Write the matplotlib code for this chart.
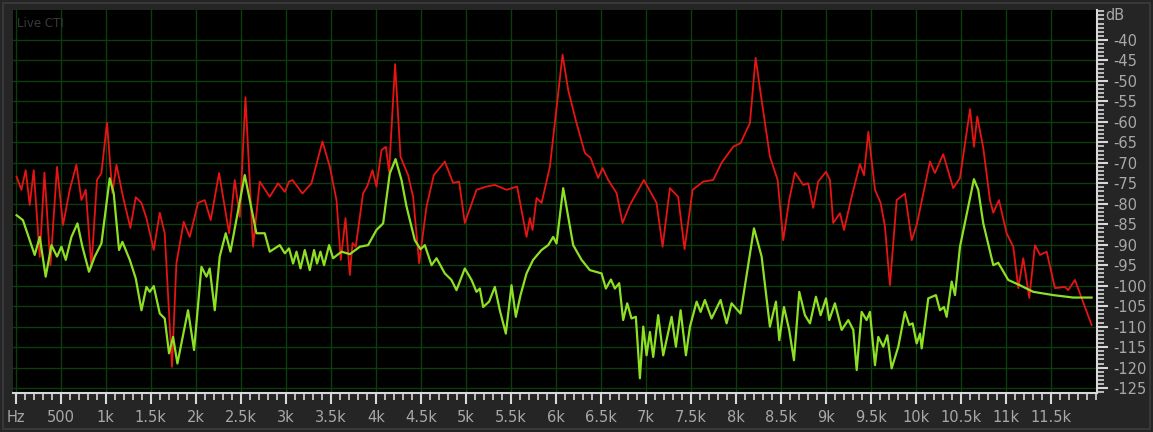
import matplotlib.pyplot as plt
from matplotlib.patches import Rectangle
from matplotlib.ticker import MultipleLocator, FixedLocator

# spectrum traces (Hz, dB)
red_hz = [10, 63, 111, 156, 200, 267, 319, 386, 459, 526, 600, 674, 730, 778, 841, 903, 952, 1014,
          1074, 1119, 1192, 1274, 1333, 1397, 1452, 1533, 1600, 1655, 1736, 1785, 1866, 1933, 2025,
          2100, 2166, 2259, 2370, 2433, 2489, 2552, 2636, 2711, 2822, 2914, 2989, 3036, 3074, 3185,
          3285, 3407, 3489, 3563, 3611, 3663, 3711, 3741, 3777, 3858, 3903, 3963, 4007, 4063, 4111,
          4147, 4214, 4274, 4358, 4414, 4481, 4563, 4644, 4766, 4858, 4925, 4988, 5118, 5229, 5322,
          5452, 5569, 5674, 5711, 5741, 5785, 5841, 5933, 6074, 6136, 6229, 6322, 6385, 6469, 6518,
          6581, 6674, 6740, 6822, 6977, 7118, 7185, 7266, 7358, 7429, 7518, 7636, 7747, 7840, 7969,
          8051, 8155, 8218, 8285, 8377, 8463, 8525, 8591, 8655, 8747, 8802, 8858, 8913, 9000, 9044,
          9080, 9155, 9200, 9285, 9377, 9422, 9470, 9544, 9607, 9655, 9710, 9785, 9877, 9952, 10007,
          10155, 10210, 10302, 10413, 10488, 10600, 10643, 10680, 10747, 10821, 10858, 10921, 11006,
          11080, 11136, 11191, 11258, 11321, 11377, 11451, 11543, 11654, 11690, 11765, 11839, 11950]
red_db = [-73.4, -76.6, -71.8, -80.3, -71.8, -93.0, -72.4, -95.0, -71.0, -85.2, -76.6, -70.5, -79.1,
          -76.6, -95.4, -74.2, -72.5, -60.2, -77.4, -70.5, -78.3, -85.9, -78.4, -79.8, -83.5, -91.3,
          -82.2, -87.2, -119.8, -94.5, -84.4, -88.1, -79.8, -79.1, -84.0, -72.5, -87.2, -74.2, -83.2,
          -54.0, -90.5, -74.6, -78.3, -75.0, -77.1, -74.6, -74.2, -77.5, -75.0, -64.8, -71.0, -79.1,
          -93.7, -83.5, -97.4, -89.6, -90.5, -77.5, -75.8, -71.8, -75.8, -66.9, -66.1, -72.2, -45.9,
          -68.5, -73.0, -78.3, -94.5, -80.7, -73.0, -69.7, -74.9, -74.6, -84.7, -76.6, -75.8, -75.4,
          -76.6, -75.8, -88.1, -83.5, -86.4, -78.6, -79.8, -71.0, -43.6, -52.2, -60.3, -67.6, -68.8,
          -73.7, -71.3, -74.2, -77.4, -84.7, -80.3, -74.2, -79.8, -90.5, -76.2, -78.3, -91.1, -76.6,
          -74.6, -74.2, -70.0, -66.1, -65.2, -60.3, -44.4, -54.7, -68.5, -74.2, -88.9, -79.1, -72.4,
          -75.4, -75.0, -81.0, -74.6, -72.2, -74.2, -84.7, -82.3, -86.4, -78.3, -70.3, -73.0, -62.4,
          -76.6, -79.8, -85.6, -99.9, -79.1, -77.5, -88.9, -85.2, -69.7, -72.5, -67.9, -76.2, -73.7,
          -56.9, -66.1, -58.7, -66.4, -79.1, -82.2, -79.1, -87.2, -90.5, -100.6, -93.3, -103.0, -90.1,
          -92.5, -91.7, -100.6, -100.3, -101.1, -98.6, -103.0, -109.6]

green_hz = [10, 80, 211, 267, 333, 397, 459, 508, 556, 619, 686, 741, 814, 878, 952, 1044, 1089, 1148,
            1185, 1267, 1333, 1397, 1452, 1489, 1533, 1600, 1655, 1703, 1748, 1796, 1914, 1981, 2063,
            2119, 2155, 2211, 2266, 2333, 2385, 2544, 2674, 2766, 2822, 2933, 2989, 3036, 3081, 3119,
            3163, 3211, 3266, 3314, 3347, 3385, 3425, 3481, 3525, 3619, 3711, 3822, 3914, 4007, 4081,
            4155, 4219, 4285, 4341, 4433, 4496, 4544, 4619, 4674, 4766, 4840, 4896, 4988, 5063, 5118,
            5155, 5192, 5258, 5322, 5377, 5444, 5507, 5555, 5607, 5674, 5747, 5840, 5914, 5970, 6007,
            6081, 6192, 6285, 6377, 6507, 6555, 6611, 6655, 6703, 6747, 6792, 6840, 6888, 6933, 6970,
            7007, 7044, 7081, 7136, 7192, 7285, 7333, 7385, 7444, 7489, 7563, 7607, 7655, 7729, 7829,
            7896, 7951, 8051, 8200, 8285, 8377, 8444, 8481, 8533, 8591, 8644, 8703, 8766, 8822, 8888,
            8940, 9000, 9036, 9099, 9174, 9247, 9303, 9341, 9396, 9451, 9488, 9544, 9581, 9636, 9681,
            9729, 9803, 9877, 9925, 9962, 10007, 10044, 10063, 10136, 10221, 10266, 10310, 10340,
            10396, 10433, 10488, 10580, 10643, 10691, 10747, 10858, 10913, 11024, 11154, 11302,
            11524, 11746, 11950]
green_db = [-82.8, -84.0, -92.5, -88.1, -97.8, -90.1, -92.9, -90.5, -93.7, -88.1, -84.8, -90.5, -96.6,
            -92.9, -89.7, -73.8, -77.5, -91.3, -89.3, -93.7, -98.2, -106.0, -100.3, -101.5, -100.1,
            -106.8, -108.0, -116.5, -112.5, -119.0, -106.0, -115.7, -95.4, -97.8, -95.8, -106.0, -92.9,
            -87.2, -91.7, -73.0, -87.2, -87.2, -91.7, -90.1, -92.1, -90.9, -94.6, -91.7, -95.8, -91.3,
            -96.2, -91.3, -94.6, -91.7, -95.0, -90.1, -93.3, -91.7, -92.3, -90.5, -90.1, -86.4, -84.8,
            -72.6, -69.1, -74.2, -80.7, -88.9, -91.1, -90.1, -95.0, -93.3, -97.0, -98.6, -101.1, -95.8,
            -98.6, -101.5, -100.7, -105.2, -103.9, -100.3, -106.0, -111.7, -99.9, -107.6, -102.3, -97.0,
            -93.7, -91.3, -90.1, -88.1, -89.7, -76.2, -90.1, -93.7, -96.2, -97.0, -100.7, -98.5, -100.7,
            -99.4, -108.4, -104.3, -108.0, -107.6, -122.6, -110.0, -117.0, -111.3, -117.4, -107.2,
            -117.0, -107.6, -114.9, -106.0, -117.0, -110.0, -103.9, -106.4, -103.5, -108.0, -103.5,
            -109.2, -104.3, -106.8, -86.0, -92.9, -110.0, -103.9, -113.3, -105.2, -110.8, -118.2,
            -101.5, -107.2, -109.2, -102.7, -107.2, -103.1, -108.4, -104.3, -110.8, -108.4, -110.8,
            -120.6, -106.4, -108.4, -106.4, -119.4, -112.5, -114.9, -112.1, -120.2, -114.9, -106.4,
            -109.6, -109.2, -114.1, -111.7, -115.3, -103.1, -102.3, -106.0, -105.2, -107.6, -99.0,
            -102.3, -90.5, -80.7, -74.0, -76.6, -84.8, -95.0, -94.4, -98.6, -99.9, -101.5, -102.3,
            -102.9, -102.9]

x_ticks = [0, 500, 1000, 1500, 2000, 2500, 3000, 3500, 4000, 4500, 5000, 5500, 6000, 6500, 7000,
           7500, 8000, 8500, 9000, 9500, 10000, 10500, 11000, 11500]
x_labels = ['Hz', '500', '1k', '1.5k', '2k', '2.5k', '3k', '3.5k', '4k', '4.5k', '5k', '5.5k', '6k',
            '6.5k', '7k', '7.5k', '8k', '8.5k', '9k', '9.5k', '10k', '10.5k', '11k', '11.5k']
y_ticks = list(range(-40, -126, -5))

bg = '#252526'
txt = '#a8a8a8'

fig = plt.figure(figsize=(11.53, 4.32), dpi=100, facecolor=bg)
# thin lighter frame around the panel
fig.patches.append(Rectangle((3 / 1153, 3 / 432), 1 - 6 / 1153, 1 - 6 / 432, transform=fig.transFigure,
                             fill=False, edgecolor='#3c3c3c', lw=1.2))
ax = fig.add_axes([13 / 1153, 1 - 393 / 432, (1097 - 13) / 1153, (393 - 10) / 432])
ax.set_facecolor('black')
ax.set_xlim(-30, 12010)
ax.set_ylim(-126.2, -32.7)

ax.plot(red_hz, red_db, color='#e81414', lw=1.3, solid_joinstyle='round')
ax.plot(green_hz, green_db, color='#8ee024', lw=1.6, solid_joinstyle='round')

ax.xaxis.set_major_locator(FixedLocator(x_ticks))
ax.set_xticklabels(x_labels)
ax.xaxis.set_minor_locator(MultipleLocator(100))
ax.yaxis.tick_right()
ax.yaxis.set_major_locator(FixedLocator(y_ticks))
ax.set_yticklabels([str(v) for v in y_ticks])
ax.yaxis.set_minor_locator(MultipleLocator(1))

ax.grid(True, which='major', color='#0d3d0d', lw=1)
ax.set_axisbelow(True)
for s in ['top', 'left']:
    ax.spines[s].set_visible(False)
for s in ['bottom', 'right']:
    ax.spines[s].set_color('#d8d8d8')
    ax.spines[s].set_linewidth(1.5)
ax.tick_params(axis='both', which='major', colors='#d8d8d8', length=8, width=1.5,
               labelcolor=txt, labelsize=10.5, pad=4)
ax.tick_params(axis='both', which='minor', colors='#d8d8d8', length=5, width=1.2)

ax.text(1.008, 0.985, 'dB', transform=ax.transAxes, color=txt, fontsize=10.5, va='center')
ax.text(0.004, 0.965, 'Live CTI', transform=ax.transAxes, color='#3a3a3a', fontsize=8.5, va='center')

fig.savefig('out.png', dpi=100, facecolor=bg)
